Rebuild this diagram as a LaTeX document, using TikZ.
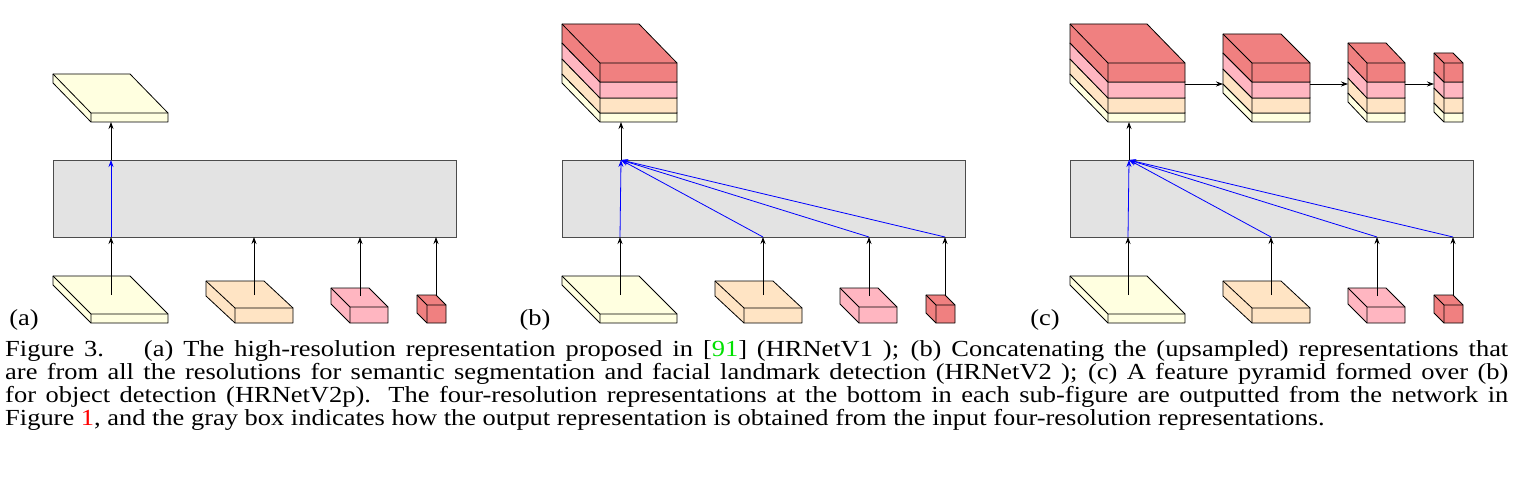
\documentclass[tikz,border=0pt]{standalone}
\usepackage{fontspec}
\setmainfont{Liberation Serif}
\usetikzlibrary{arrows.meta}
\definecolor{cy}{HTML}{FFFFE0}
\definecolor{co}{HTML}{FFE4C4}
\definecolor{cp}{HTML}{FFB6C1}
\definecolor{cr}{HTML}{F08080}
\definecolor{cg}{HTML}{E3E3E3}
\definecolor{cgreen}{HTML}{00E000}
\newcommand\myslab[7]{%
 \filldraw[fill=#7,draw=black,line width=0.8pt,line join=round] (#1,#2) -- ++(#3,0) -- ++(#4,#5) -- ++(0,#6) -- ++(-#3,0) -- ++(-#4,-#5) -- cycle;
 \draw[line width=0.8pt] (#1,#2) -- ++(#4,#5) -- ++(#3,0) ++(-#3,0) -- ++(0,#6);}
\newcommand\mystack[4]{%
 \myslab{#1}{113-#4}{#2}{#3}{#4}{9}{cy}
 \myslab{#1}{98-#4}{#2}{#3}{#4}{15}{co}
 \myslab{#1}{82-#4}{#2}{#3}{#4}{16}{cp}
 \myslab{#1}{63-#4}{#2}{#3}{#4}{19}{cr}}
\tikzset{arr/.style={line width=0.8pt,-{Stealth[length=7pt,width=5pt]}},
 barr/.style={arr,blue},
 gbox/.style={fill=cg,draw=black!70,line width=0.8pt},
 lab/.style={font=\fontsize{23}{23}\selectfont,inner sep=0pt,xscale=1.15,transform shape}}
\begin{document}
\begin{tikzpicture}[x=1pt,y=-1pt]
\useasboundingbox (0,0) rectangle (1514,484);
% ---- panel a
\myslab{53}{74}{77}{38}{39}{9}{cy}
\draw[gbox] (53,160) rectangle (456,237);
\myslab{53}{276}{77}{38}{38}{9}{cy}
\myslab{206}{281}{58}{29}{27}{15}{co}
\myslab{331}{288}{38}{19}{19}{16}{cp}
\myslab{417}{295}{19}{10}{10}{18}{cr}
\coordinate (a1) at (111,295); \coordinate (a1t) at (111,237);
\coordinate (a2) at (254,295); \coordinate (a2t) at (254,237);
\coordinate (a3) at (360,296); \coordinate (a3t) at (360,237);
\coordinate (a4) at (436,296); \coordinate (a4t) at (436,237);
\coordinate (ag) at (111,160); \coordinate (ao) at (111,122);
\draw[arr] (a1) -- (a1t); \draw[arr] (a2) -- (a2t); \draw[arr] (a3) -- (a3t); \draw[arr] (a4) -- (a4t);
\draw[barr] (a1t) -- (ag); \draw[arr] (ag) -- (ao);
\node[lab] (la) at (24,320) {(a)};
% ---- panel b
\mystack{562}{77}{38}{39}
\draw[gbox] (562,160) rectangle (965,237);
\myslab{562}{276}{77}{38}{38}{9}{cy}
\myslab{715}{281}{58}{29}{27}{15}{co}
\myslab{840}{288}{38}{19}{19}{16}{cp}
\myslab{926}{295}{19}{10}{10}{18}{cr}
\coordinate (b1) at (620,295); \coordinate (b1t) at (620,237);
\coordinate (b2) at (763,295); \coordinate (b2t) at (763,237);
\coordinate (b3) at (869,296); \coordinate (b3t) at (869,237);
\coordinate (b4) at (945,296); \coordinate (b4t) at (945,237);
\coordinate (bg) at (621,160); \coordinate (bo) at (621,122);
\draw[arr] (b1) -- (b1t); \draw[arr] (b2) -- (b2t); \draw[arr] (b3) -- (b3t); \draw[arr] (b4) -- (b4t);
\draw[barr] (b1t) -- (bg); \draw[barr] (b2t) -- (bg); \draw[barr] (b3t) -- (bg); \draw[barr] (b4t) -- (bg);
\draw[arr] (bg) -- (bo);
\node[lab] (lb) at (535,320) {(b)};
% ---- panel c
\mystack{1070}{77}{38}{39}
\mystack{1223}{58}{29}{29}
\mystack{1348}{38}{19}{20}
\mystack{1434}{19}{10}{10}
\coordinate (s1) at (1185,84); \coordinate (s2l) at (1223,84);
\coordinate (s2) at (1310,84); \coordinate (s3l) at (1348,84);
\coordinate (s3) at (1405,84); \coordinate (s4l) at (1434,84);
\draw[arr] (s1) -- (s2l); \draw[arr] (s2) -- (s3l); \draw[arr] (s3) -- (s4l);
\draw[gbox] (1070,160) rectangle (1473,237);
\myslab{1070}{276}{77}{38}{38}{9}{cy}
\myslab{1223}{281}{58}{29}{27}{15}{co}
\myslab{1348}{288}{38}{19}{19}{16}{cp}
\myslab{1434}{295}{19}{10}{10}{18}{cr}
\coordinate (c1) at (1128,295); \coordinate (c1t) at (1128,237);
\coordinate (c2) at (1271,295); \coordinate (c2t) at (1271,237);
\coordinate (c3) at (1377,296); \coordinate (c3t) at (1377,237);
\coordinate (c4) at (1453,296); \coordinate (c4t) at (1453,237);
\coordinate (cg) at (1129,160); \coordinate (co) at (1129,122);
\draw[arr] (c1) -- (c1t); \draw[arr] (c2) -- (c2t); \draw[arr] (c3) -- (c3t); \draw[arr] (c4) -- (c4t);
\draw[barr] (c1t) -- (cg); \draw[barr] (c2t) -- (cg); \draw[barr] (c3t) -- (cg); \draw[barr] (c4t) -- (cg);
\draw[arr] (cg) -- (co);
\node[lab] (lc) at (1045,320) {(c)};
% ---- caption
\node[lab,anchor=north west,text width=1307pt,align=justify] (cap) at (5,340) {Figure 3.\hspace{0.8em} (a) The high-resolution representation proposed in [\textcolor{cgreen}{91}] (HRNetV1 ); (b) Concatenating the (upsampled) representations that\linebreak are from all the resolutions for semantic segmentation and facial landmark detection (HRNetV2 ); (c) A feature pyramid formed over (b)\linebreak for object detection (HRNetV2p). The four-resolution representations at the bottom in each sub-figure are outputted from the network in\linebreak Figure \textcolor{red}{1}, and the gray box indicates how the output representation is obtained from the input four-resolution representations.};
\end{tikzpicture}
\end{document}
